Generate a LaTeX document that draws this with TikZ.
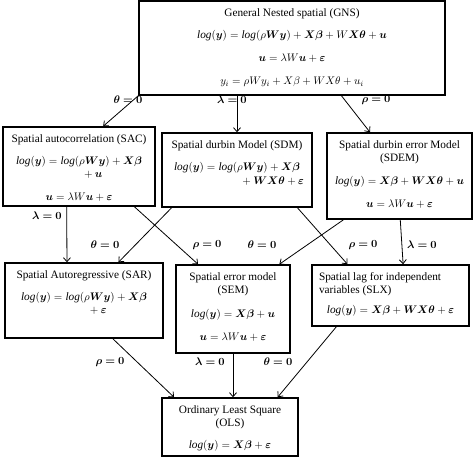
\documentclass[tikz,border=0pt]{standalone}
\usepackage{amsmath,bm}
\usepackage{fontspec}
\setmainfont{Liberation Serif}
\usetikzlibrary{arrows.meta}
% cadre a hauteur fixe, texte en haut
\newcommand{\Cadre}[3]{\begin{minipage}[t][#2][t]{#1}\centering\vspace*{8pt}#3\end{minipage}}

\begin{document}
\begin{tikzpicture}[x=1pt,y=-1pt]
    % Styles
    \tikzstyle{fleche}=[-{Straight Barb[length=4pt,width=7pt]},line width=0.8pt]
    \tikzstyle{modele}=[draw,line width=1.5pt,inner sep=0pt,font=\fontsize{11.3}{13}\selectfont]
    \tikzstyle{etiquette}=[inner sep=1pt,font=\fontsize{11.3}{13}\selectfont]
    \useasboundingbox (0,0) rectangle (474,457);
    % Modeles
    \node[modele] (GNS) at (292,48) {\Cadre{306pt}{94pt}{General Nested spatial (GNS)\\[9pt]
        $\mathit{log}(\bm{y}) = \mathit{log}(\rho\bm{Wy}) + \bm{X\beta} + W\bm{X\theta} + \bm{u}$\\[10pt]
        $\bm{u} = \lambda W\bm{u} + \bm{\varepsilon}$\\[10pt]
        $y_i = \rho W y_i + X\beta + WX\theta + u_i$}};
    \node[modele] (SAC) at (79,166.5) {\Cadre{152pt}{79pt}{Spatial autocorrelation (SAC)\\[9pt]
        $\mathit{log}(\bm{y}) = \mathit{log}(\rho\bm{Wy}) + \bm{X\beta}$\\
        \hspace*{26pt}${}+\bm{u}$\\[10pt]
        $\bm{u} = \lambda W\bm{u} + \bm{\varepsilon}$}};
    \node[modele] (SDM) at (237,170) {\Cadre{150pt}{74pt}{Spatial durbin Model (SDM)\\[9pt]
        $\mathit{log}(\bm{y}) = \mathit{log}(\rho\bm{Wy}) + \bm{X\beta}$\\[1pt]
        \hspace*{70pt}${}+\bm{WX\theta} + \bm{\varepsilon}$}};
    \node[modele] (SDEM) at (399.5,176) {\Cadre{145pt}{86pt}{Spatial durbin error Model\\ (SDEM)\\[10pt]
        $\mathit{log}(\bm{y}) = \bm{X\beta} + \bm{WX\theta} + \bm{u}$\\[10pt]
        $\bm{u} = \lambda W\bm{u} + \bm{\varepsilon}$}};
    \node[modele] (SAR) at (84,300.5) {\Cadre{158pt}{75pt}{Spatial Autoregressive (SAR)\\[9pt]
        $\mathit{log}(\bm{y}) = \mathit{log}(\rho\bm{Wy}) + \bm{X\beta}$\\
        \hspace*{26pt}${}+\bm{\varepsilon}$}};
    \node[modele] (SEM) at (233,309) {\Cadre{114pt}{88pt}{Spatial error model\\ (SEM)\\[11pt]
        $\mathit{log}(\bm{y}) = \bm{X\beta} + \bm{u}$\\[10pt]
        $\bm{u} = \lambda W\bm{u} + \bm{\varepsilon}$}};
    \node[modele] (SLX) at (390.5,295.5) {\Cadre{157pt}{61pt}{{\raggedright\leftskip=7pt
        Spatial lag for independent\\ variables (SLX)\par}\vspace{7pt}
        $\mathit{log}(\bm{y}) = \bm{X\beta} + \bm{WX\theta} + \bm{\varepsilon}$}};
    \node[modele] (OLS) at (230,427) {\Cadre{136pt}{58pt}{Ordinary Least Square\\ (OLS)\\[9pt]
        $\mathit{log}(\bm{y}) = \bm{X\beta} + \bm{\varepsilon}$}};
    % Etiquettes
    \node[etiquette] (t1) at (128,100) {$\bm{\theta = 0}$};
    \node[etiquette] (l1) at (232,100) {$\bm{\lambda = 0}$};
    \node[etiquette] (r1) at (376,100) {$\bm{\rho = 0}$};
    \node[etiquette] (l2) at (47,216) {$\bm{\lambda = 0}$};
    \node[etiquette] (t2) at (105,245) {$\bm{\theta = 0}$};
    \node[etiquette] (r2) at (207,245) {$\bm{\rho = 0}$};
    \node[etiquette] (t3) at (262,245) {$\bm{\theta = 0}$};
    \node[etiquette] (r3) at (363,245) {$\bm{\rho = 0}$};
    \node[etiquette] (l3) at (422,245) {$\bm{\lambda = 0}$};
    \node[etiquette] (r4) at (110,362) {$\bm{\rho = 0}$};
    \node[etiquette] (l4) at (210,362) {$\bm{\lambda = 0}$};
    \node[etiquette] (t4) at (278,362) {$\bm{\theta = 0}$};
    % Arcs
    \draw[fleche] (GNS.south west) -- (SAC.59);
    \draw[fleche] (SDM.north |- GNS.south) -- (SDM.north);
    \draw[fleche] (GNS.-44) -- (SDEM.124);

    \draw[fleche] (SAC.253) -- (SAR.114);
    \draw[fleche] (SAC.-36) -- (SEM.128);
    \draw[fleche] (SDM.210) -- (SAR.48);
    \draw[fleche] (SDM.-32) -- (SLX.144);
    \draw[fleche] (SDEM.218) -- (SEM.44);
    \draw[fleche] (SDEM.-89) -- (SLX.68);

    \draw[fleche] (SAR.-53) -- (OLS.152);
    \draw[fleche] (SEM.south) -- (SEM.south |- OLS.north);
    \draw[fleche] (SLX.210) -- (OLS.32);
\end{tikzpicture}
\end{document}
